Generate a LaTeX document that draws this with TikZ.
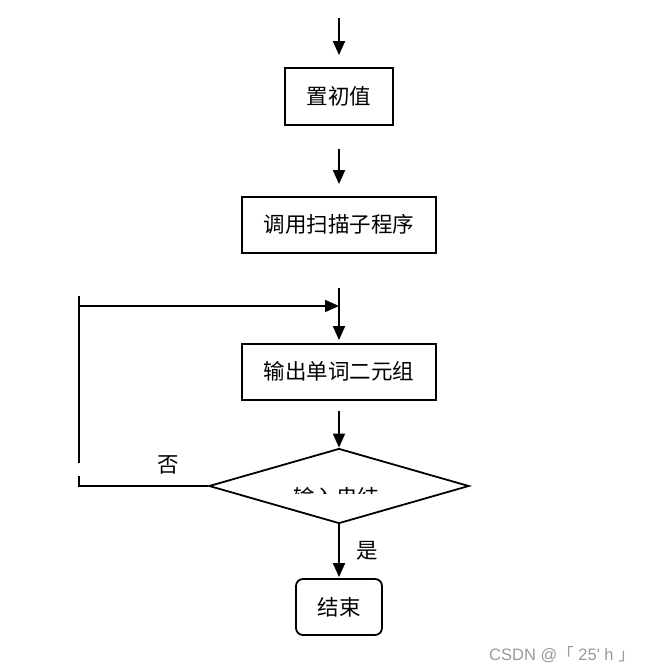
\documentclass[tikz,border=0pt]{standalone}
\usepackage{fontspec}
\newfontfamily\cjk{Noto Sans CJK SC}
\newfontfamily\marksans{Liberation Sans}
\usetikzlibrary{arrows.meta,shapes.geometric}
\begin{document}
\begin{tikzpicture}[x=1pt, y=-1pt, line width=1.8pt, >={Triangle[length=14pt, width=12pt]},
		every node/.style={font=\cjk\fontsize{21.5}{25}\selectfont}]
		\useasboundingbox [fill=white] (0,0) rectangle (655,672);
		
		\node (rectinit) [rectangle, draw, minimum width=108pt, minimum height=57pt, inner sep=0pt] at (339,96.5) {置初值};
		
		\node (rectscan) [rectangle, draw, minimum width=194pt, minimum height=56pt, inner sep=0pt] at (339,225) {\raisebox{4pt}{调用扫描子程序}};
		
		\node (rectout) [rectangle, draw, minimum width=194pt, minimum height=56pt, inner sep=0pt] at (339,372) {\raisebox{4pt}{输出单词二元组}};
		
		\node (diamend) [diamond, draw, minimum width=260pt, minimum height=75pt, inner sep=0pt] at (339,486) {};
		
		\node (rectend) [rectangle, draw, rounded corners=7pt, minimum width=86pt, minimum height=56pt, inner sep=0pt] at (339,607) {\raisebox{-3pt}{结束}};
		
		\coordinate (topstart) at (339,18);
		\coordinate (loopdown) at (79,486);
		\coordinate (loopgap) at (79,476);
		\coordinate (loopgaptop) at (79,463);
		\coordinate (looptop) at (79,296);
		\coordinate (loopturn) at (79,306);
		\coordinate (loopjoin) at (339,306);
		
		\draw [->, shorten >=12pt] (topstart) -- (rectinit.north);
		\draw [->, shorten <=23pt, shorten >=12pt] (rectinit.south) -- (rectscan.north);
		\draw [->, shorten <=34pt, shorten >=3pt] (rectscan.south) -- (rectout.north);
		\draw [->, shorten <=10pt] (rectout.south) -- (diamend.north);
		\draw [->, shorten >=1pt] (diamend.south) -- (rectend.north);
		\draw (diamend.west) -- (loopdown) -- (loopgap);
		\draw (loopgaptop) -- (looptop);
		\draw [->] (loopturn) -- (loopjoin);
		
		\begin{scope}
		\clip (200,440) rectangle (480,493.5);
		\node (txtinput) at (336,497) {输入串结};
		\end{scope}
		
		\node (txtno) at (168,465) {否};
		\node (txtyes) at (367,551) {是};
		\node (txtmark) [font=\marksans\fontsize{16.5}{19}\selectfont, text=black!40] at (562,655) {CSDN @{\cjk「} 25' h {\cjk」}};
		
		\end{tikzpicture}
\end{document}
